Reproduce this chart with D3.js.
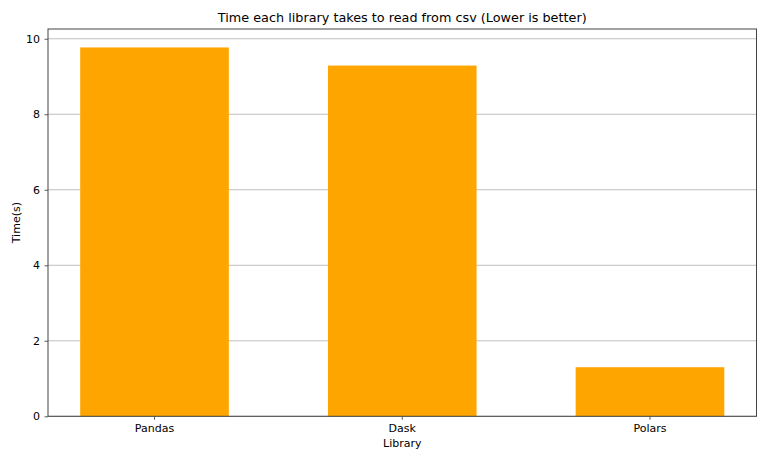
<!DOCTYPE html>
<html>
<head>
<meta charset="utf-8">
<script src="https://cdn.jsdelivr.net/npm/d3@7"></script>
<style>
  body { margin: 0; background: #fff; }
  text { font-family: "DejaVu Sans", sans-serif; fill: #000; }
</style>
</head>
<body>
<div id="chart"></div>
<script>
// Chart data
const libraries = ["Pandas", "Dask", "Polars"];
const readTimes = [9.77, 9.29, 1.30];
const yTicks = [0, 2, 4, 6, 8, 10];

const width = 768, height = 461;
const margin = { top: 29, right: 11.5, bottom: 44.7, left: 48 };
const innerW = width - margin.left - margin.right;
const innerH = height - margin.top - margin.bottom;

const svg = d3.select("#chart")
    .append("svg")
    .attr("width", width)
    .attr("height", height);

const g = svg.append("g")
    .attr("transform", "translate(" + margin.left + "," + margin.top + ")");

// Scales
const xScale = d3.scaleBand()
    .domain(libraries)
    .range([0, innerW])
    .paddingInner(0.4)
    .paddingOuter(0.13);

const yScale = d3.scaleLinear()
    .domain([0, d3.max(readTimes) * 1.05])
    .range([innerH, 0]);

// Horizontal grid lines
g.append("g")
    .selectAll("line")
    .data(yTicks)
    .enter()
    .append("line")
    .attr("x1", 0)
    .attr("x2", innerW)
    .attr("y1", d => yScale(d))
    .attr("y2", d => yScale(d))
    .attr("stroke", "#b0b0b0")
    .attr("stroke-width", 0.8);

// Bars
g.selectAll(".bar")
    .data(libraries)
    .enter()
    .append("rect")
    .attr("class", "bar")
    .attr("x", d => xScale(d))
    .attr("y", (d, i) => yScale(readTimes[i]))
    .attr("width", xScale.bandwidth())
    .attr("height", (d, i) => innerH - yScale(readTimes[i]))
    .attr("fill", "#ffa500");

// Axes
const xAxis = g.append("g")
    .attr("transform", "translate(0," + innerH + ")")
    .call(d3.axisBottom(xScale).tickSize(3.5).tickPadding(4));

const yAxis = g.append("g")
    .call(d3.axisLeft(yScale).tickValues(yTicks).tickSize(3.5).tickPadding(4.5));

[xAxis, yAxis].forEach(ax => {
    ax.select(".domain").remove();
    ax.selectAll(".tick line").attr("stroke", "#333").attr("stroke-width", 0.8);
    ax.selectAll(".tick text")
        .style("font-family", "DejaVu Sans, sans-serif")
        .style("font-size", "11px")
        .attr("fill", "#222");
});

// Frame (spines)
g.append("rect")
    .attr("x", 0)
    .attr("y", 0)
    .attr("width", innerW)
    .attr("height", innerH)
    .attr("fill", "none")
    .attr("stroke", "#444")
    .attr("stroke-width", 1);

// Title
svg.append("text")
    .attr("x", margin.left + innerW / 2)
    .attr("y", 22)
    .attr("text-anchor", "middle")
    .style("font-size", "12.8px")
    .text("Time each library takes to read from csv (Lower is better)");

// X label
svg.append("text")
    .attr("x", margin.left + innerW / 2)
    .attr("y", 447)
    .attr("text-anchor", "middle")
    .style("font-size", "11px")
    .attr("fill", "#222")
    .text("Library");

// Y label
svg.append("text")
    .attr("transform", "rotate(-90)")
    .attr("x", -(margin.top + innerH / 2))
    .attr("y", 20)
    .attr("text-anchor", "middle")
    .style("font-size", "11px")
    .attr("fill", "#222")
    .text("Time(s)");
</script>
</body>
</html>
